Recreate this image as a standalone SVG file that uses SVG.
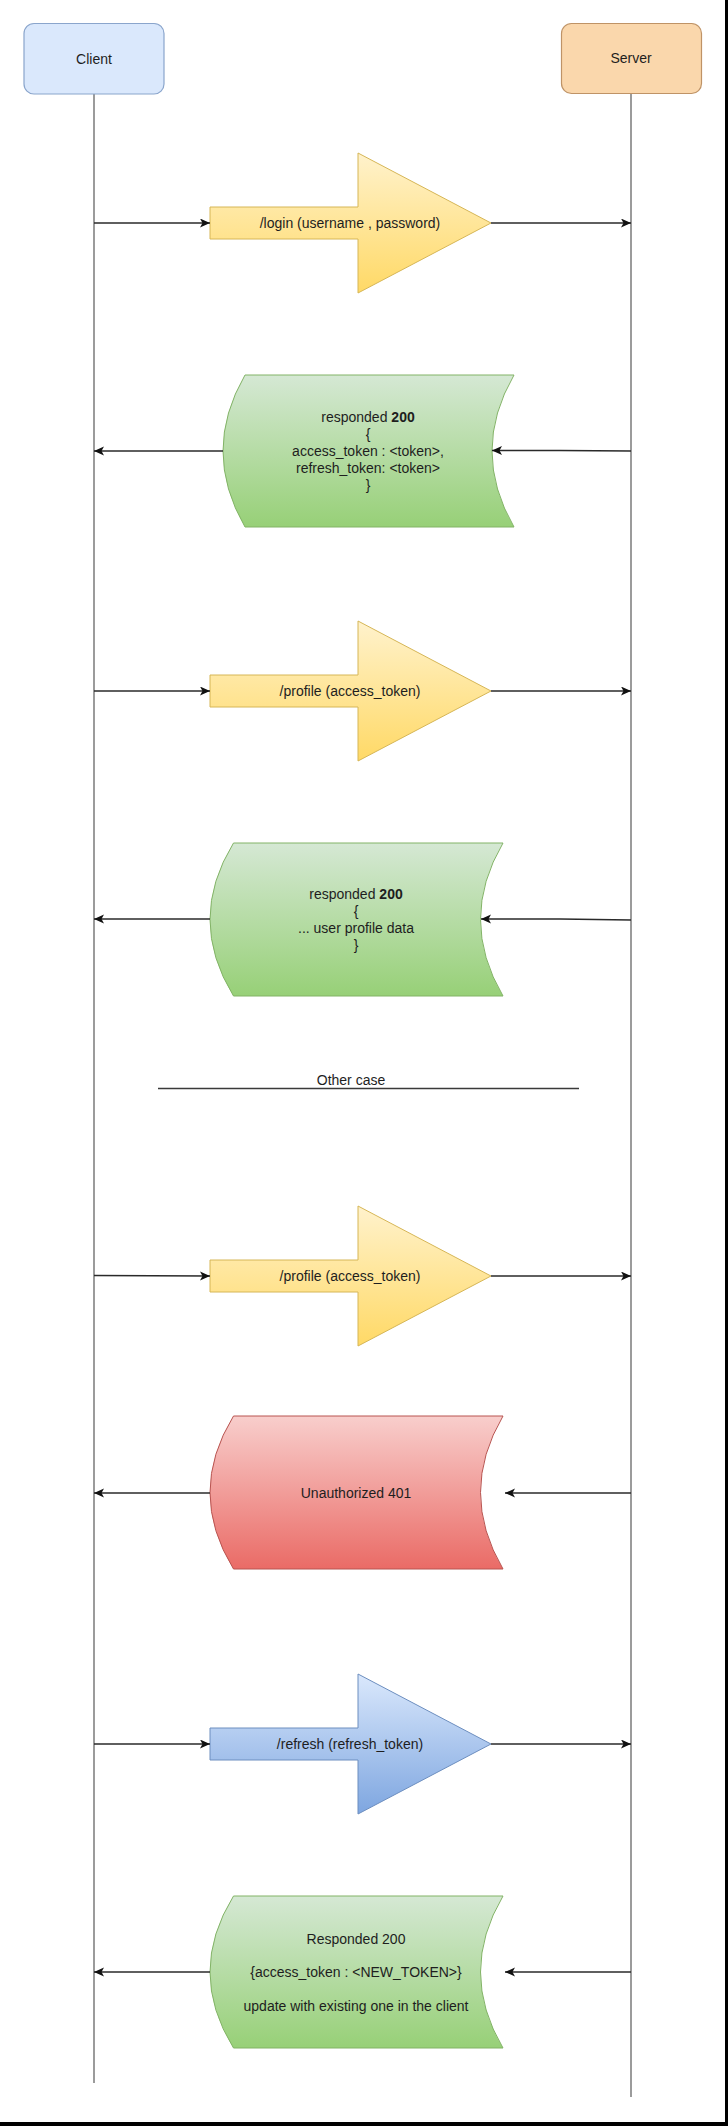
<svg xmlns="http://www.w3.org/2000/svg" width="728" height="2126" viewBox="0 0 728 2126">
<style>
text{font-family:"Liberation Sans",Arial,sans-serif;font-size:14px;fill:#1e1e1e;text-anchor:middle}
.life{stroke:#7a7a7a;stroke-width:1.5;fill:none}
.conn{stroke:#2a2a2a;stroke-width:1.4;fill:none;marker-end:url(#arr)}
.yel{fill:url(#gY);stroke:#d6b656;stroke-width:1}
.blu{fill:url(#gB);stroke:#6c8ebf;stroke-width:1}
.grn{fill:url(#gG);stroke:#82b366;stroke-width:1}
.red{fill:url(#gR);stroke:#b85450;stroke-width:1}
</style>
<defs>
<linearGradient id="gY" x1="0" y1="0" x2="0" y2="1"><stop offset="0" stop-color="#fff2cc"/><stop offset="1" stop-color="#ffd966"/></linearGradient>
<linearGradient id="gB" x1="0" y1="0" x2="0" y2="1"><stop offset="0" stop-color="#dae8fc"/><stop offset="1" stop-color="#7ea6e0"/></linearGradient>
<linearGradient id="gG" x1="0" y1="0" x2="0" y2="1"><stop offset="0" stop-color="#d5e8d4"/><stop offset="1" stop-color="#97d077"/></linearGradient>
<linearGradient id="gR" x1="0" y1="0" x2="0" y2="1"><stop offset="0" stop-color="#f8cecc"/><stop offset="1" stop-color="#ea6b66"/></linearGradient>
<marker id="arr" markerUnits="userSpaceOnUse" markerWidth="12" markerHeight="12" refX="10" refY="4.5" orient="auto">
<path d="M0,0 L10,4.5 L0,9 L2.5,4.5 Z" fill="#111"/>
</marker>
</defs>
<rect x="0" y="0" width="728" height="2126" fill="#ffffff"/>

<g id="lifelines">
<line class="life" x1="94" y1="94" x2="94" y2="2083"/>
<line class="life" x1="631" y1="93" x2="631" y2="2097"/>
</g>

<g id="client">
<rect x="24" y="23.5" width="140" height="70.5" rx="10" fill="#dae8fc" stroke="#8aa5cc" stroke-width="1.2"/>
<text x="94" y="63.5">Client</text>
</g>
<g id="server">
<rect x="561.5" y="23.5" width="140" height="70" rx="10" fill="#fad7ac" stroke="#bf9366" stroke-width="1.2"/>
<text x="631" y="63">Server</text>
</g>

<g id="login">
<polygon class="yel" points="210,207 358,207 358,153 491,223 358,293 358,239 210,239"/>
<text x="350" y="228">/login (username , password)</text>
</g>

<g id="resp-tokens">
<path class="grn" d="M245,375 L514,375 Q470,451 514,527 L245,527 Q201,451 245,375 Z"/>
<text x="368" y="422">responded <tspan font-weight="bold">200</tspan></text>
<text x="368" y="439">{</text>
<text x="368" y="456">access_token : &lt;token&gt;,</text>
<text x="368" y="473">refresh_token: &lt;token&gt;</text>
<text x="368" y="490">}</text>
</g>

<g id="profile1">
<polygon class="yel" points="210,675 358,675 358,621 491,691 358,761 358,707 210,707"/>
<text x="350" y="696">/profile (access_token)</text>
</g>

<g id="resp-profile">
<path class="grn" d="M233.5,843 L503,843 Q458,919.5 503,996 L233.5,996 Q186.5,919.5 233.5,843 Z"/>
<text x="356" y="899">responded <tspan font-weight="bold">200</tspan></text>
<text x="356" y="916">{</text>
<text x="356" y="933">... user profile data</text>
<text x="356" y="950">}</text>
</g>

<g id="other-case">
<line x1="158" y1="1088.5" x2="579" y2="1088.5" stroke="#3a3a3a" stroke-width="1.6"/>
<text x="351" y="1085">Other case</text>
</g>

<g id="profile2">
<polygon class="yel" points="210,1260 358,1260 358,1206 491,1276 358,1346 358,1292 210,1292"/>
<text x="350" y="1281">/profile (access_token)</text>
</g>

<g id="unauthorized">
<path class="red" d="M233.5,1416 L503,1416 Q458,1492.5 503,1569 L233.5,1569 Q186.5,1492.5 233.5,1416 Z"/>
<text x="356" y="1497.5">Unauthorized 401</text>
</g>

<g id="refresh">
<polygon class="blu" points="210,1728 358,1728 358,1674 491,1744 358,1814 358,1760 210,1760"/>
<text x="350" y="1749">/refresh (refresh_token)</text>
</g>

<g id="resp-refresh">
<path class="grn" d="M233.5,1896 L503,1896 Q458,1972 503,2048 L233.5,2048 Q186.5,1972 233.5,1896 Z"/>
<text x="356" y="1944">Responded 200</text>
<text x="356" y="1977">{access_token : &lt;NEW_TOKEN&gt;}</text>
<text x="356" y="2010.5">update with existing one in the client</text>
</g>

<g id="connectors">
<line class="conn" x1="94" y1="223" x2="210" y2="223"/>
<line class="conn" x1="491" y1="223" x2="631" y2="223"/>
<path class="conn" d="M631,451 L560,450.5 L492,450.5"/>
<line class="conn" x1="223" y1="451" x2="94" y2="451"/>
<line class="conn" x1="94" y1="691" x2="210" y2="691"/>
<line class="conn" x1="491" y1="691" x2="631" y2="691"/>
<path class="conn" d="M631,920 L560,919 L481,919"/>
<line class="conn" x1="210" y1="919" x2="94" y2="919"/>
<line class="conn" x1="94" y1="1275.5" x2="210" y2="1276"/>
<line class="conn" x1="491" y1="1276" x2="631" y2="1276"/>
<line class="conn" x1="631" y1="1493" x2="505" y2="1493"/>
<line class="conn" x1="210" y1="1493" x2="94" y2="1493"/>
<line class="conn" x1="94" y1="1744" x2="210" y2="1744"/>
<line class="conn" x1="491" y1="1744" x2="631" y2="1744"/>
<line class="conn" x1="631" y1="1972" x2="505" y2="1972"/>
<line class="conn" x1="210" y1="1972" x2="94" y2="1972"/>
</g>

<g id="frame">
<rect x="725" y="0" width="3" height="2126" fill="#000"/>
<rect x="0" y="2122" width="728" height="4" fill="#000"/>
</g>
</svg>
